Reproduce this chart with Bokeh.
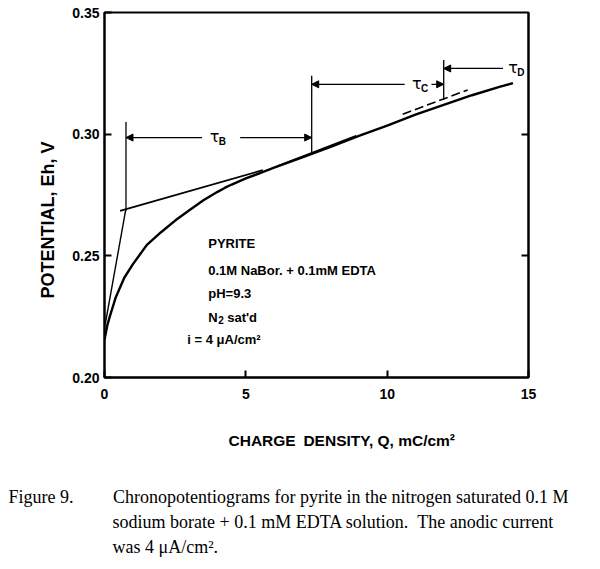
from bokeh.plotting import figure
from bokeh.models import (LinearAxis, FixedTicker, Arrow, NormalHead, ColumnDataSource,
                          Title, CustomJSTickFormatter, Range1d)
from bokeh.core.properties import value
from bokeh.embed import file_html
from bokeh.resources import INLINE

# ---- data ----
q_curve = [0, 0.1, 0.2, 0.4, 0.7, 1.0, 1.5, 2.0, 2.5, 3.0, 3.5, 3.75, 4.0, 4.25, 4.5, 5.0,
           5.5, 6.0, 7.0, 8.0, 9.0, 10.0, 11.0, 12.0, 13.0, 14.0, 14.45]
e_curve = [0.2155, 0.2215, 0.2255, 0.2330, 0.2410, 0.2465, 0.2545, 0.2597, 0.2645,
           0.2687, 0.2728, 0.2746, 0.2763, 0.2779, 0.2793, 0.2818, 0.2840, 0.2862,
           0.2905, 0.2948, 0.2993, 0.3035, 0.3080, 0.3120, 0.3160, 0.3195, 0.3210]

# tangents
tan_steep_q = [0.02, 0.76]
tan_steep_e = [0.2215, 0.2695]
tan_b_q = [0.55, 5.6]
tan_b_e = [0.2685, 0.2852]
tan_mid_q = [6.1, 8.9]
tan_mid_e = [0.2868, 0.2994]
tan_c_q = [10.55, 12.85]
tan_c_e = [0.3082, 0.3182]

# transition markers
mark_q = [0.76, 7.33, 12.0]
mark_e0 = [0.2685, 0.2918, 0.3142]
mark_e1 = [0.3050, 0.3240, 0.3305]

# arrows (tail -> head)
arr_q0 = [3.45, 4.80, 10.62, 11.57, 14.10]
arr_q1 = [0.76, 7.33, 7.33, 12.0, 12.0]
arr_e = [0.2986, 0.2986, 0.3205, 0.3205, 0.3270]

tau_q = [3.72, 10.88, 14.28]
tau_e = [0.2990, 0.3210, 0.3275]
tau_sub = ["B", "C", "D"]

note_lines = ["PYRITE", "0.1M NaBor. + 0.1mM EDTA", "pH=9.3", "N", "i = 4 \u03bcA/cm\u00b2"]
note_q = [3.67, 3.67, 3.67, 3.67, 2.93]
note_e = [0.2551, 0.2440, 0.2345, 0.2247, 0.2156]
n2_sub = ["2"]
n2_sub_q = [4.02]
n2_sub_e = [0.2236]
n2_rest = ["sat'd"]
n2_rest_q = [4.34]
n2_rest_e = [0.2247]

x_ticks = [0, 5, 10, 15]
y_ticks = [0.20, 0.25, 0.30, 0.35]

caption_lines = ["Figure 9.\u2003\u2003\u2009Chronopotentiograms for pyrite in the nitrogen saturated 0.1 M",
                 "sodium borate + 0.1 mM EDTA solution.\u2002The anodic current",
                 "was 4 \u03bcA/cm\u00b2."]

x_title = "CHARGE\u2002DENSITY, Q, mC/cm\u00b2"
y_title = "POTENTIAL, Eh, V"

# ---- figure ----
p = figure(frame_width=424, frame_height=365,
           x_range=Range1d(0, 15), y_range=Range1d(0.20, 0.35),
           output_backend="svg", toolbar_location=None,
           min_border_left=104, min_border_right=56,
           min_border_top=12, min_border_bottom=176,
           background_fill_color="white", border_fill_color="white")
p.grid.visible = False
p.outline_line_color = "black"
p.outline_line_width = 2

LBL_FONT = "Liberation Sans"

def style_axis(ax):
    ax.axis_line_width = 2
    ax.axis_line_color = "black"
    ax.major_tick_in = 7
    ax.major_tick_out = 0
    ax.major_tick_line_width = 2
    ax.minor_tick_line_color = None
    ax.major_label_text_font = LBL_FONT
    ax.major_label_text_font_style = "bold"
    ax.major_label_text_font_size = "14px"
    ax.major_label_text_color = "black"

style_axis(p.xaxis[0])
style_axis(p.yaxis[0])
p.xaxis[0].ticker = FixedTicker(ticks=x_ticks)
p.xaxis[0].major_label_standoff = 11
p.xaxis[0].formatter = CustomJSTickFormatter(code="return tick.toFixed(0);")
p.yaxis[0].ticker = FixedTicker(ticks=y_ticks)
p.yaxis[0].major_label_standoff = 5
p.yaxis[0].formatter = CustomJSTickFormatter(code="return tick.toFixed(2);")

right_ax = LinearAxis(ticker=FixedTicker(ticks=[0.25, 0.30]))
style_axis(right_ax)
right_ax.formatter = CustomJSTickFormatter(code="return '';")
right_ax.major_label_standoff = 0
p.add_layout(right_ax, "right")

# ---- titles & caption ----
p.add_layout(Title(text=y_title, align="left", offset=79, standoff=23,
                   text_font=LBL_FONT, text_font_style="bold", text_font_size="18px",
                   text_color="black"), "left")
p.add_layout(Title(text=x_title, align="left", offset=124, standoff=56,
                   text_font=LBL_FONT, text_font_style="bold", text_font_size="15.5px",
                   text_color="black"), "below")
cap_standoff = [16, -10, 16]
for line, so in zip(caption_lines, cap_standoff):
    off = -96 if line.startswith("Figure") else 8
    p.add_layout(Title(text=line, align="left", offset=off, standoff=so,
                       text_font="Liberation Serif", text_font_style="normal",
                       text_font_size="18px", text_color="black"), "below")

# ---- curves ----
p.line(q_curve, e_curve, line_color="black", line_width=2.4)
p.line(tan_steep_q, tan_steep_e, line_color="black", line_width=1.4)
p.line(tan_b_q, tan_b_e, line_color="black", line_width=1.8)
p.line(tan_mid_q, tan_mid_e, line_color="black", line_width=1.6)
p.line(tan_c_q, tan_c_e, line_color="black", line_width=1.6, line_dash="9 4")

p.segment(x0=mark_q, y0=mark_e0, x1=mark_q, y1=mark_e1, line_color="black", line_width=1.3)

arr_src = ColumnDataSource(dict(x0=arr_q0, x1=arr_q1, y=arr_e))
p.add_layout(Arrow(source=arr_src, x_start="x0", y_start="y", x_end="x1", y_end="y",
                   line_color="black", line_width=1.3,
                   end=NormalHead(size=7, fill_color="black", line_color="black")))

p.text(x=tau_q, y=tau_e, text=["\u03c4"] * 3, text_font=value("DejaVu Sans"),
       text_font_size=value("16px"), text_align="left", text_baseline="middle",
       text_color="black")
p.text(x=[q + 0.32 for q in tau_q], y=[e - 0.0022 for e in tau_e], text=tau_sub,
       text_font=value(LBL_FONT), text_font_style=value("bold"),
       text_font_size=value("10px"), text_align="left", text_baseline="middle",
       text_color="black")

p.text(x=note_q, y=note_e, text=note_lines, text_font=value(LBL_FONT),
       text_font_style=value("bold"), text_font_size=value("13px"),
       text_align="left", text_baseline="middle", text_color="black")
p.text(x=n2_sub_q, y=n2_sub_e, text=n2_sub, text_font=value(LBL_FONT),
       text_font_style=value("bold"), text_font_size=value("10px"),
       text_align="left", text_baseline="middle", text_color="black")
p.text(x=n2_rest_q, y=n2_rest_e, text=n2_rest, text_font=value(LBL_FONT),
       text_font_style=value("bold"), text_font_size=value("13px"),
       text_align="left", text_baseline="middle", text_color="black")

open("out.html", "w").write(file_html(p, INLINE))
